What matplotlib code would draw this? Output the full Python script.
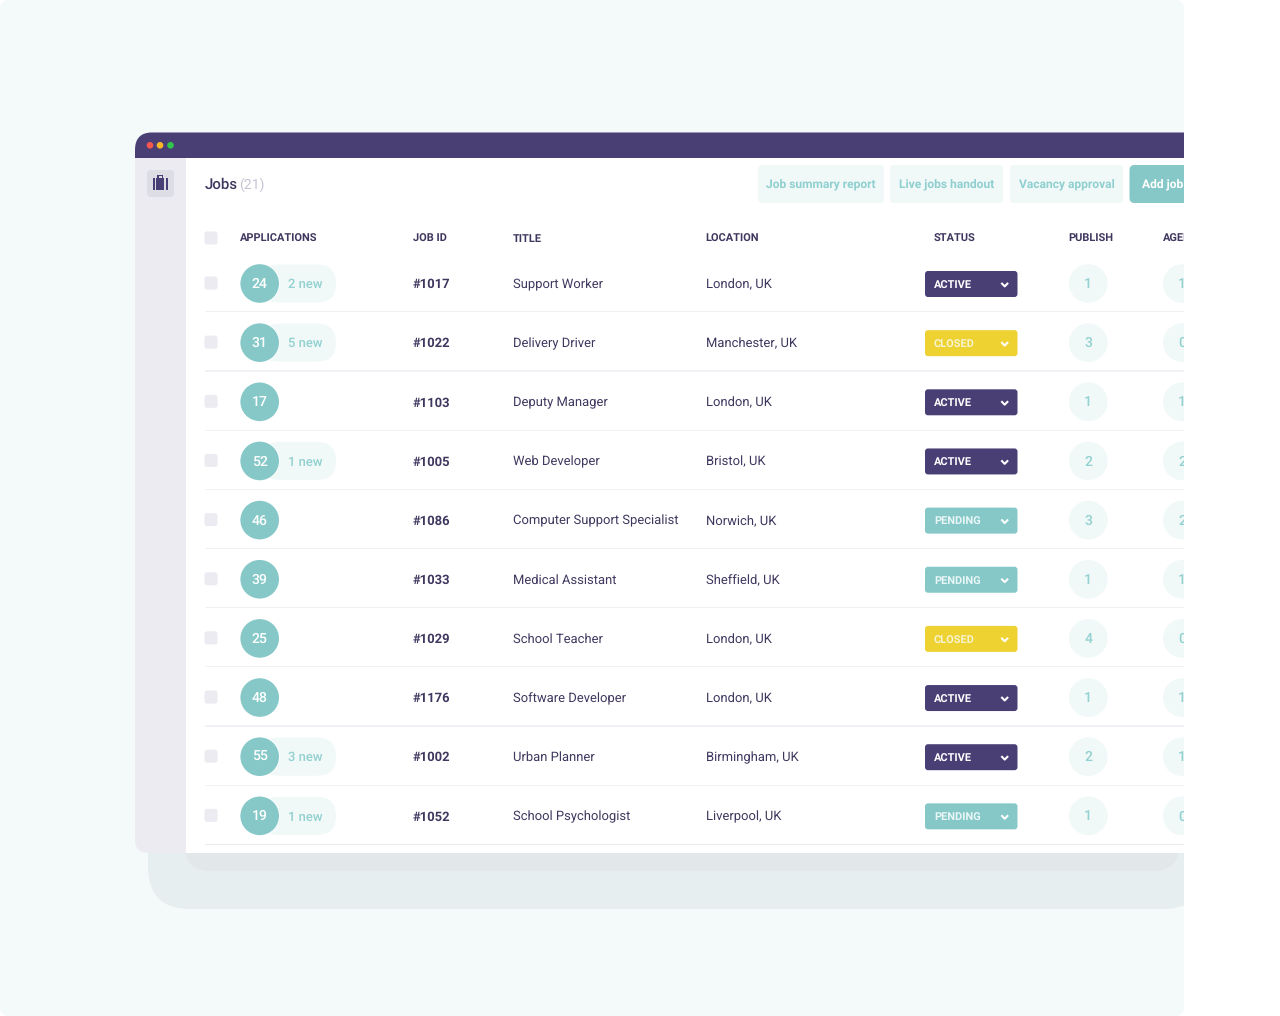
import matplotlib
matplotlib.use("Agg")
import matplotlib.pyplot as plt
from matplotlib.patches import FancyBboxPatch, Circle, Rectangle
from matplotlib.path import Path
from matplotlib.patches import PathPatch

plt.rcParams['font.family'] = ['Roboto', 'DejaVu Sans']
plt.rcParams['text.hinting'] = 'no_hinting'
plt.rcParams['text.hinting_factor'] = 1

# ---- data ----
applications = [24, 31, 17, 52, 46, 39, 25, 48, 55, 19]
new_counts = [2, 5, 0, 1, 0, 0, 0, 0, 3, 1]
job_ids = ["#1017", "#1022", "#1103", "#1005", "#1086", "#1033", "#1029", "#1176", "#1002", "#1052"]
titles = ["Support Worker", "Delivery Driver", "Deputy Manager", "Web Developer",
          "Computer Support Specialist", "Medical Assistant", "School Teacher",
          "Software Developer", "Urban Planner", "School Psychologist"]
locations = ["London, UK", "Manchester, UK", "London, UK", "Bristol, UK", "Norwich, UK",
             "Sheffield, UK", "London, UK", "London, UK", "Birmingham, UK", "Liverpool, UK"]
statuses = ["ACTIVE", "CLOSED", "ACTIVE", "ACTIVE", "PENDING", "PENDING", "CLOSED",
            "ACTIVE", "ACTIVE", "PENDING"]
publish = [1, 3, 1, 2, 3, 1, 4, 1, 2, 1]
agency = [1, 0, 1, 2, 2, 1, 0, 1, 1, 0]
headers = ["APPLICATIONS", "JOB ID", "TITLE", "LOCATION", "STATUS", "PUBLISH", "AGENCY"]
header_x = [240, 413, 513, 705.7, 934, 1068.7, 1163]
buttons = ["Job summary report", "Live jobs handout", "Vacancy approval"]
button_x = [(758, 884), (890, 1003), (1010, 1123)]

# ---- style ----
PURPLE = "#4a3f75"
TEAL = "#86c8c8"
PALE = "#f0f8f8"
LILAC = "#ebebf1"
BG = "#f4f9f9"
YELLOW = "#eed232"
TEXT = "#40375f"
status_color = {"ACTIVE": PURPLE, "CLOSED": YELLOW, "PENDING": TEAL}
ROW0, ROWH = 283.5, 59.15
BASE = 4.6

fig = plt.figure(figsize=(12.8, 10.16), dpi=100, facecolor="white")
ax = fig.add_axes([0, 0, 1, 1])
ax.set_xlim(0, 1280)
ax.set_ylim(1016, 0)
ax.axis("off")

clip = Rectangle((0, 0), 1184, 1016, transform=ax.transData)


def rbox(x0, y0, x1, y1, r, color, z=1, **kw):
    p = FancyBboxPatch((x0 + r, y0 + r), x1 - x0 - 2 * r, y1 - y0 - 2 * r,
                       boxstyle=f"round,pad={r},rounding_size={r}",
                       fc=color, ec="none", lw=0, zorder=z, **kw)
    ax.add_patch(p)
    p.set_clip_path(clip)
    return p


def txt(x, y, s, size, color, weight="normal", ha="left", z=10):
    t = ax.text(x, y, s, fontsize=size, color=color, fontweight=weight, ha=ha,
                va="baseline", zorder=z, clip_on=True)
    t.set_clip_path(clip)
    return t


def circ(x, y, r, color, z=3):
    c = Circle((x, y), r, fc=color, ec="none", zorder=z)
    ax.add_patch(c)
    c.set_clip_path(clip)
    return c


# page background and stacked shadows
rbox(0, 0, 1184, 1016, 9, BG, z=0)
rbox(148, 800, 1205, 909, 42, "#e7eeef", z=1)
rbox(185, 800, 1179, 871, 26, "#e2e7ea", z=1.5)

# window
top = Path([(135, 840), (135, 150), (135, 132.5), (152, 132.5), (1184, 132.5), (1184, 853),
            (150, 853), (135, 853), (135, 840), (135, 840)],
           [Path.MOVETO, Path.LINETO, Path.CURVE3, Path.CURVE3, Path.LINETO, Path.LINETO,
            Path.LINETO, Path.CURVE3, Path.CURVE3, Path.CLOSEPOLY])
ax.add_patch(PathPatch(top, fc=LILAC, ec="none", zorder=2))
ax.add_patch(Rectangle((185.5, 158), 998.5, 695, fc="white", ec="none", zorder=2.1))
bar = Path([(135, 158), (135, 150), (135, 132.5), (152, 132.5), (1184, 132.5), (1184, 158), (135, 158)],
           [Path.MOVETO, Path.LINETO, Path.CURVE3, Path.CURVE3, Path.LINETO, Path.LINETO, Path.CLOSEPOLY])
ax.add_patch(PathPatch(bar, fc=PURPLE, ec="none", zorder=2.2))
for x, col in zip([150, 160, 170.5], ["#f9574e", "#fbb928", "#2fc84a"]):
    circ(x, 145.3, 3.3, col, z=3)

# sidebar icon
rbox(147, 170, 174, 197, 4, "#dddde6", z=3)
ax.add_patch(Rectangle((152.5, 177.5), 2.4, 12.5, fc=PURPLE, ec="none", zorder=4))
ax.add_patch(Rectangle((156.2, 177.5), 8, 12.5, fc=PURPLE, ec="none", zorder=4))
ax.add_patch(Rectangle((165.5, 177.5), 2.4, 12.5, fc=PURPLE, ec="none", zorder=4))
ax.add_patch(Rectangle((157.2, 175), 6, 1.4, fc=PURPLE, ec="none", zorder=4))
ax.add_patch(Rectangle((157.2, 175), 1.3, 3, fc=PURPLE, ec="none", zorder=4))
ax.add_patch(Rectangle((161.9, 175), 1.3, 3, fc=PURPLE, ec="none", zorder=4))

# title and buttons
txt(205, 189, "Jobs", 10.8, TEXT, "medium")
txt(239.5, 189, "(21)", 10.2, "#c5c3d2")
for label, (a, b) in zip(buttons, button_x):
    rbox(a, 165, b, 203, 4, PALE, z=3)
    txt((a + b) / 2, 187, label, 8.38, "#8fcfcf", "bold", ha="center")
rbox(1129.5, 165, 1210, 203, 5, TEAL, z=3)
txt(1142.5, 187, "Add job", 8.9, "white", "bold")

# header
rbox(204.5, 231.5, 217.5, 244.5, 2.5, LILAC, z=3)
for h, x in zip(headers, header_x):
    txt(x, 242, h, 7.65, TEXT, "bold")

# rows
for i in range(len(applications)):
    y = ROW0 + ROWH * i
    rbox(204.5, y - 7, 217.5, y + 6, 2.5, LILAC, z=3)
    if new_counts[i]:
        rbox(260, y - 19, 336, y + 19, 19, PALE, z=3)
        txt(288.5, y + BASE, f"{new_counts[i]} new", 9.6, "#93d1d0", "medium")
    circ(259.7, y, 20, "white", z=3.5)
    circ(259.7, y, 19.3, TEAL, z=4)
    txt(259.9, y + BASE, str(applications[i]), 9.9, "white", "medium", ha="center")
    txt(413, y + BASE, job_ids[i], 9.5, TEXT, "bold")
    txt(513.1, y + BASE, titles[i], 9.35, TEXT)
    txt(706, y + BASE, locations[i], 9.35, TEXT)
    # status pill
    col = status_color[statuses[i]]
    rbox(925, y - 12.5, 1017.5, y + 13.5, 3, col, z=3)
    txt(934, y + 5.2, statuses[i], 7.75, "white" if statuses[i] == "ACTIVE" else "#f7f3cf" if statuses[i] == "CLOSED" else "#e9f6f6", "bold")
    ax.plot([1001.3, 1004.7, 1008.1], [y - 0.6, y + 2.9, y - 0.6], color="white", lw=1.5, zorder=5,
            solid_capstyle="butt")
    # publish and agency
    circ(1088.3, y, 19.3, PALE)
    txt(1088.3, y + BASE, str(publish[i]), 9.8, "#93d1d0", "medium", ha="center")
    circ(1182.3, y, 19.3, PALE)
    txt(1182.3, y + BASE, str(agency[i]), 9.8, "#93d1d0", "medium", ha="center")
    # separator
    sep_y = y + 28.4
    ax.add_patch(Rectangle((204.5, sep_y - 0.6), 979.5, 1.2,
                           fc="#f1f1f5" if i < 9 else "#e9e9f0", ec="none", zorder=3))

fig.savefig("out.png", dpi=100, facecolor="white")
